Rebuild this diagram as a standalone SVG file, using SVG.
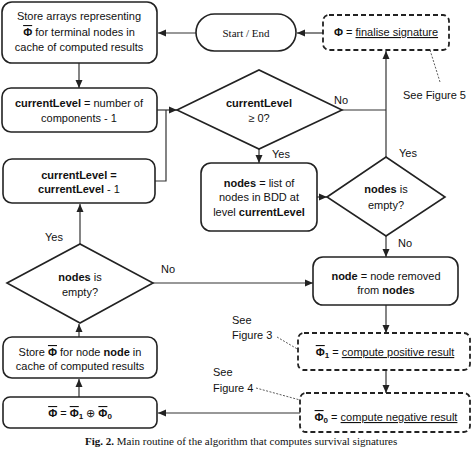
<svg xmlns="http://www.w3.org/2000/svg" width="474" height="449" viewBox="0 0 474 449">
<defs>
<marker id="ah" markerWidth="8" markerHeight="8" refX="8" refY="4" orient="auto" markerUnits="userSpaceOnUse">
<path d="M0,0.5 L8,4 L0,7.5 z" fill="#222"/>
</marker>
<style>
.box{fill:#fff;stroke:#222;stroke-width:1.6}
.dash{fill:#fff;stroke:#222;stroke-width:1.8;stroke-dasharray:5,3}
.ln{fill:none;stroke:#333;stroke-width:1.2}
.ar{fill:none;stroke:#333;stroke-width:1.2;marker-end:url(#ah)}
.dot{fill:none;stroke:#333;stroke-width:0.8;stroke-dasharray:2,1.5}
text{font-family:"Liberation Sans",Arial,sans-serif;font-size:11px;fill:#111;text-anchor:middle}
.b{font-weight:bold}
.l{text-anchor:start}
.u{text-decoration:underline}
.o{text-decoration:overline;font-weight:bold}
.serif{font-family:"Liberation Serif","Times New Roman",serif}
</style>
</defs>
<g id="connectors">
<line class="ar" x1="196" y1="33" x2="158" y2="33"/>
<line class="ar" x1="323" y1="33" x2="297" y2="33"/>
<line class="ar" x1="79" y1="63" x2="79" y2="88"/>
<line class="ar" x1="157" y1="110" x2="177" y2="110"/>
<polyline class="ln" points="155,181 166,181 166,110"/>
<line class="ln" x1="342" y1="110" x2="386" y2="110"/>
<line class="ar" x1="386" y1="157" x2="386" y2="51"/>
<line class="ar" x1="259" y1="149" x2="259" y2="163"/>
<line class="ar" x1="317" y1="197" x2="327" y2="197"/>
<line class="ar" x1="386" y1="236" x2="386" y2="257"/>
<line class="ar" x1="153" y1="283" x2="313" y2="283"/>
<line class="ar" x1="386" y1="305" x2="386" y2="333"/>
<line class="ar" x1="386" y1="370" x2="386" y2="393"/>
<line class="ar" x1="300" y1="413" x2="158" y2="413"/>
<line class="ar" x1="79" y1="397" x2="79" y2="379"/>
<line class="ar" x1="79" y1="337" x2="79" y2="324"/>
<line class="ar" x1="80" y1="244" x2="80" y2="204"/>
<polyline class="dot" points="430,50 440,82"/>
<polyline class="dot" points="277,337 299,350"/>
<polyline class="dot" points="256,388 300,400"/>
<text x="341" y="104">No</text>
<text x="281" y="158">Yes</text>
<text x="408" y="157">Yes</text>
<text x="405" y="247">No</text>
<text x="168" y="273">No</text>
<text x="54" y="241">Yes</text>
<text class="l" x="403" y="99">See Figure 5</text>
<text class="l" x="232" y="324">See</text>
<text class="l" x="232" y="339">Figure 3</text>
<text class="l" x="213" y="376">See</text>
<text class="l" x="213" y="392">Figure 4</text>
</g>
<g id="store-terminal">
<rect class="box" x="2" y="2" width="155" height="61" rx="10"/>
<text x="79" y="20">Store arrays representing</text>
<text x="79" y="36"><tspan class="o">Φ</tspan>  for terminal nodes in</text>
<text x="79" y="51">cache of computed results</text>
</g>
<g id="start-end">
<rect class="box" x="196" y="14" width="100" height="37" rx="18.5"/>
<text class="serif" x="246" y="37">Start / End</text>
</g>
<g id="finalise">
<rect class="dash" x="323" y="15" width="126" height="35" rx="6"/>
<text x="386" y="36"><tspan class="b">Φ</tspan> = <tspan class="u">finalise signature</tspan></text>
</g>
<g id="init-level">
<rect class="box" x="2" y="88" width="155" height="44" rx="9"/>
<text x="79" y="107"><tspan class="b">currentLevel</tspan> = number of</text>
<text x="79" y="122">components - 1</text>
</g>
<g id="level-check">
<polygon class="box" points="177,110 259,70 342,110 259,149"/>
<text class="b" x="259" y="107">currentLevel</text>
<text x="259" y="122">≥ 0?</text>
</g>
<g id="decrement">
<rect class="box" x="3" y="159" width="152" height="44" rx="9"/>
<text class="b" x="79" y="179">currentLevel =</text>
<text x="79" y="193"><tspan class="b">currentLevel</tspan> - 1</text>
</g>
<g id="list-nodes">
<rect class="box" x="201" y="163" width="116" height="68" rx="10"/>
<text x="259" y="187"><tspan class="b">nodes</tspan> = list of</text>
<text x="259" y="201">nodes  in BDD at</text>
<text x="259" y="216">level <tspan class="b">currentLevel</tspan></text>
</g>
<g id="empty-right">
<polygon class="box" points="327,197 386,157 445,197 386,236"/>
<text x="386" y="193"><tspan class="b">nodes</tspan> is</text>
<text x="386" y="209">empty?</text>
</g>
<g id="empty-left">
<polygon class="box" points="7,283 80,244 153,283 80,323"/>
<text x="80" y="281"><tspan class="b">nodes</tspan> is</text>
<text x="80" y="296">empty?</text>
</g>
<g id="remove-node">
<rect class="box" x="313" y="257" width="145" height="48" rx="10"/>
<text x="386" y="280"><tspan class="b">node</tspan> = node removed</text>
<text x="386" y="294">from <tspan class="b">nodes</tspan></text>
</g>
<g id="positive">
<rect class="dash" x="298" y="333" width="172" height="37" rx="6"/>
<text x="385" y="356"><tspan class="o">Φ</tspan><tspan class="b" font-size="8" dy="2">1</tspan><tspan dy="-2"> = </tspan><tspan class="u">compute positive result</tspan></text>
</g>
<g id="negative">
<rect class="dash" x="300" y="393" width="170" height="39" rx="6"/>
<text x="386" y="421"><tspan class="o">Φ</tspan><tspan class="b" font-size="8" dy="2">0</tspan><tspan dy="-2"> = </tspan><tspan class="u">compute negative result</tspan></text>
</g>
<g id="store-node">
<rect class="box" x="3" y="337" width="154" height="41" rx="9"/>
<text x="80" y="356">Store <tspan class="o">Φ</tspan> for node <tspan class="b">node</tspan> in</text>
<text x="80" y="370">cache of computed results</text>
</g>
<g id="combine">
<rect class="box" x="3" y="397" width="154" height="31" rx="7"/>
<text x="80" y="417"><tspan class="o">Φ</tspan> = <tspan class="o">Φ</tspan><tspan class="b" font-size="8" dy="2">1</tspan><tspan dy="-2"> ⊕ </tspan><tspan class="o">Φ</tspan><tspan class="b" font-size="8" dy="2">0</tspan></text>
</g>
<text class="serif l" x="85" y="445" font-size="9"><tspan class="b">Fig. 2.</tspan> Main routine of the algorithm that computes survival signatures</text>
</svg>
